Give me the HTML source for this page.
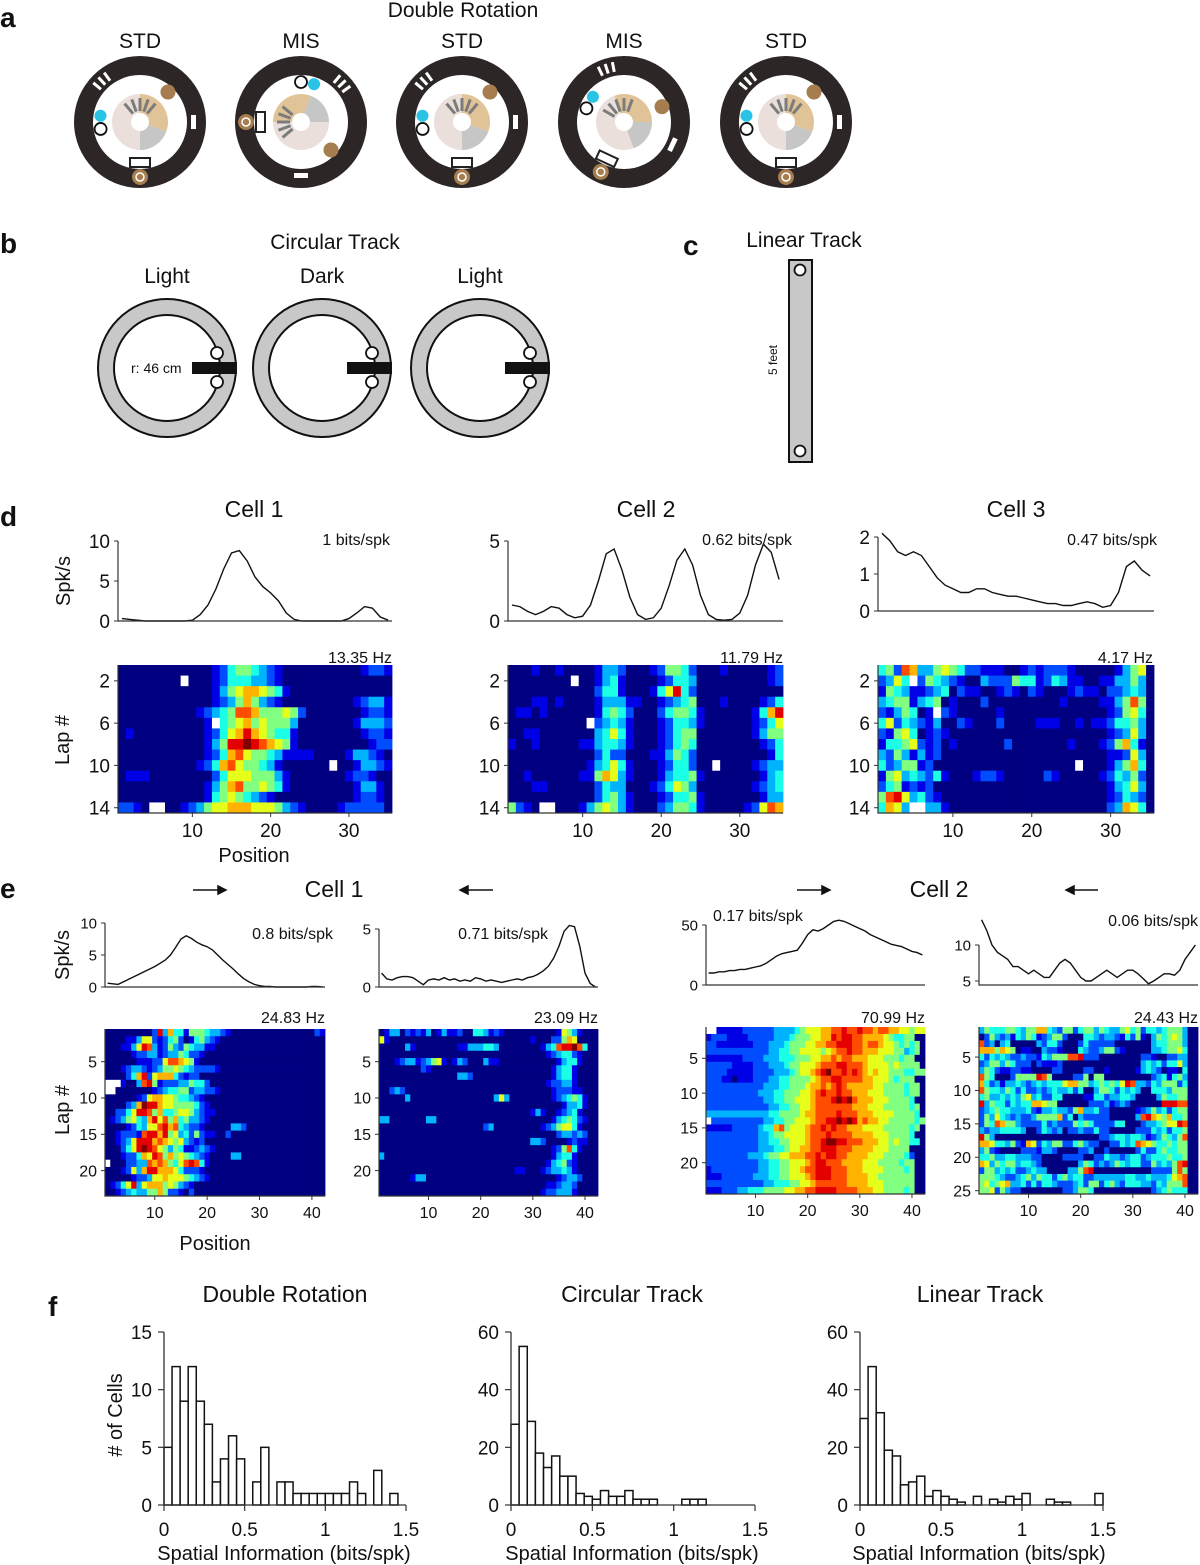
<!DOCTYPE html>
<html><head><meta charset="utf-8">
<style>
html,body{margin:0;padding:0;background:#fff;}
svg{display:block;font-family:"Liberation Sans",Arial,sans-serif;}
</style></head>
<body>
<svg id="fig" width="1200" height="1565" viewBox="0 0 1200 1565" xmlns="http://www.w3.org/2000/svg">
<rect width="1200" height="1565" fill="#fff"/>
<g font-size="21" fill="#111">
<text x="0" y="27" font-size="28" font-weight="bold">a</text>
<text x="463" y="17" text-anchor="middle">Double Rotation</text>
<text x="140" y="48" text-anchor="middle">STD</text>
<text x="301" y="48" text-anchor="middle">MIS</text>
<text x="462" y="48" text-anchor="middle">STD</text>
<text x="624" y="48" text-anchor="middle">MIS</text>
<text x="786" y="48" text-anchor="middle">STD</text>
<text x="0" y="253" font-size="28" font-weight="bold">b</text>
<text x="335" y="249" text-anchor="middle">Circular Track</text>
<text x="167" y="283" text-anchor="middle">Light</text>
<text x="322" y="283" text-anchor="middle">Dark</text>
<text x="480" y="283" text-anchor="middle">Light</text>
<text x="683" y="255" font-size="28" font-weight="bold">c</text>
<text x="804" y="247" text-anchor="middle">Linear Track</text>
<text x="0" y="526" font-size="28" font-weight="bold">d</text>
<text x="254" y="517" text-anchor="middle" font-size="23">Cell 1</text>
<text x="646" y="517" text-anchor="middle" font-size="23">Cell 2</text>
<text x="1016" y="517" text-anchor="middle" font-size="23">Cell 3</text>
<text x="0" y="898" font-size="28" font-weight="bold">e</text>
<text x="334" y="897" text-anchor="middle" font-size="23">Cell 1</text>
<text x="939" y="897" text-anchor="middle" font-size="23">Cell 2</text>
<text x="48" y="1316" font-size="28" font-weight="bold">f</text>
<text x="285" y="1302" text-anchor="middle" font-size="23">Double Rotation</text>
<text x="632" y="1302" text-anchor="middle" font-size="23">Circular Track</text>
<text x="980" y="1302" text-anchor="middle" font-size="23">Linear Track</text>
</g>
<g font-size="16" fill="#111">
<text x="390" y="545" text-anchor="end">1 bits/spk</text>
<text x="792" y="545" text-anchor="end">0.62 bits/spk</text>
<text x="1157" y="545" text-anchor="end">0.47 bits/spk</text>
<text x="392" y="663" text-anchor="end">13.35 Hz</text>
<text x="783" y="663" text-anchor="end">11.79 Hz</text>
<text x="1153" y="663" text-anchor="end">4.17 Hz</text>
<text x="333" y="939" text-anchor="end">0.8 bits/spk</text>
<text x="548" y="939" text-anchor="end">0.71 bits/spk</text>
<text x="713" y="921">0.17 bits/spk</text>
<text x="1198" y="926" text-anchor="end">0.06 bits/spk</text>
<text x="325" y="1023" text-anchor="end">24.83 Hz</text>
<text x="598" y="1023" text-anchor="end">23.09 Hz</text>
<text x="925" y="1023" text-anchor="end">70.99 Hz</text>
<text x="1198" y="1023" text-anchor="end">24.43 Hz</text>
</g>
<g font-size="20" fill="#111">
<text transform="translate(70,581) rotate(-90)" text-anchor="middle">Spk/s</text>
<text transform="translate(69,740) rotate(-90)" text-anchor="middle">Lap #</text>
<text x="254" y="862" text-anchor="middle">Position</text>
<text transform="translate(69,955) rotate(-90)" text-anchor="middle">Spk/s</text>
<text transform="translate(69,1110) rotate(-90)" text-anchor="middle">Lap #</text>
<text x="215" y="1250" text-anchor="middle">Position</text>
<text transform="translate(122,1415) rotate(-90)" text-anchor="middle"># of Cells</text>
<text x="284" y="1560" text-anchor="middle">Spatial Information (bits/spk)</text>
<text x="632" y="1560" text-anchor="middle">Spatial Information (bits/spk)</text>
<text x="979" y="1560" text-anchor="middle">Spatial Information (bits/spk)</text>
</g>
<g stroke="#111" stroke-width="1.5" fill="#111">
<g><line x1="193" y1="890" x2="220" y2="890"/><path d="M226 890 L218 886 L218 894Z"/></g>
<g><line x1="466" y1="890" x2="493" y2="890"/><path d="M460 890 L468 886 L468 894Z"/></g>
<g><line x1="797" y1="890" x2="824" y2="890"/><path d="M830 890 L822 886 L822 894Z"/></g>
<g><line x1="1072" y1="890" x2="1098" y2="890"/><path d="M1066 890 L1074 886 L1074 894Z"/></g>
</g>
<g>
<rect x="789" y="260" width="23" height="202" fill="#c8c8c8" stroke="#111" stroke-width="2"/>
<circle cx="800" cy="270" r="5.5" fill="#fff" stroke="#111" stroke-width="1.8"/>
<circle cx="800" cy="451" r="5.5" fill="#fff" stroke="#111" stroke-width="1.8"/>
<text transform="translate(777,360) rotate(-90)" text-anchor="middle" font-size="12" fill="#111">5 feet</text>
</g>
<g id="dyn"></g>
</svg>
<script>
const NS='http://www.w3.org/2000/svg';
const root=document.getElementById('dyn');
function mk(tag,attrs,name,parent){
  const el=document.createElementNS(NS,tag);
  for(const k in attrs) el.setAttribute(k,attrs[k]);
  
  
  (parent||root).appendChild(el);
  return el;
}
function txt(x,y,s,size,anchor,name,parent){
  const t=mk('text',{x:x,y:y,'font-size':size,'text-anchor':anchor,fill:'#111'},name,parent);
  t.textContent=s;return t;
}

const ringCenters=[140,301,462,624,786];
const ringLabels=['std','mis','std','mis','std'];
const outerRot=[0,90,0,25,0];
const localRot=[0,100,0,30,0];
const innerRot=[0,-90,0,-20,0];
function pol(cx,cy,r,a){const t=a*Math.PI/180;return [cx+r*Math.cos(t),cy+r*Math.sin(t)];}
function sector(cx,cy,r,a0,a1){const p0=pol(cx,cy,r,a0),p1=pol(cx,cy,r,a1);const lg=((a1-a0+360)%360)>180?1:0;return `M${cx} ${cy} L${p0[0]} ${p0[1]} A${r} ${r} 0 ${lg} 1 ${p1[0]} ${p1[1]}Z`;}
ringCenters.forEach((cx,i)=>{
  const cy=122;
  const g=mk('g',{},'arena-'+ringLabels[i]+'-'+(i+1));
  mk('circle',{cx:cx,cy:cy,r:66,fill:'#2d2626'},'arena-outer-ring',g);
  mk('circle',{cx:cx,cy:cy,r:47,fill:'#fff'},'arena-floor',g);
  const inner=mk('g',{transform:`rotate(${innerRot[i]} ${cx} ${cy})`},'arena-center-platform',g);
  mk('path',{d:sector(cx,cy,28,90,270),fill:'#ebdfdb'},'platform-light-half',inner);
  mk('path',{d:sector(cx,cy,28,-90,20),fill:'#e0c397'},'platform-tan-quadrant',inner);
  mk('path',{d:sector(cx,cy,28,20,90),fill:'#c6c6c6'},'platform-gray-quadrant',inner);
  for(let k=0;k<5;k++){const a=-130+k*20;const p0=pol(cx,cy,11,a),p1=pol(cx,cy,24,a);
    mk('line',{x1:p0[0],y1:p0[1],x2:p1[0],y2:p1[1],stroke:'#7c7c7c','stroke-width':3},'platform-ray',inner);}
  mk('circle',{cx:cx,cy:cy,r:9,fill:'#fff'},'platform-center',inner);
  const og=mk('g',{transform:`rotate(${outerRot[i]} ${cx} ${cy})`},'distal-cues',g);
  for(let k=-1;k<=1;k++){const a=-133+k*7;const p0=pol(cx,cy,51,a),p1=pol(cx,cy,61,a);
    mk('line',{x1:p0[0],y1:p0[1],x2:p1[0],y2:p1[1],stroke:'#fff','stroke-width':3},'triple-bar-cue',og);}
  mk('rect',{x:cx+51,y:cy-7,width:5,height:14,fill:'#fff'},'single-bar-cue',og);
  mk('rect',{x:cx-10,y:cy+36,width:20,height:9,fill:'none',stroke:'#222','stroke-width':2},'rect-cue',og);
  mk('circle',{cx:cx,cy:cy+55,r:8,fill:'#a57d4f'},'brown-ring-cue',og);
  mk('circle',{cx:cx,cy:cy+55,r:4,fill:'none',stroke:'#fff','stroke-width':1.5},'brown-ring-inner',og);
  const bp=pol(cx,cy,41,-47);
  mk('circle',{cx:bp[0],cy:bp[1],r:7.5,fill:'#a57d4f'},'brown-dot-cue',og);
  const lg=mk('g',{transform:`rotate(${localRot[i]} ${cx} ${cy})`},'local-cues',g);
  const wp=pol(cx,cy,40,170),cp=pol(cx,cy,40,189);
  mk('circle',{cx:wp[0],cy:wp[1],r:6,fill:'#fff',stroke:'#111','stroke-width':1.8},'white-circle-cue',lg);
  mk('circle',{cx:cp[0],cy:cp[1],r:6,fill:'#29c3e6'},'cyan-dot-cue',lg);
});

const trackCenters=[167,322,480];
trackCenters.forEach((cx,i)=>{
  const cy=368;
  const g=mk('g',{},'circular-track-'+(i+1));
  mk('circle',{cx:cx,cy:cy,r:69,fill:'#c8c8c8',stroke:'#111','stroke-width':2},'track-ring',g);
  mk('circle',{cx:cx,cy:cy,r:53,fill:'#fff',stroke:'#111','stroke-width':2},'track-inner',g);
  mk('rect',{x:cx+25,y:cy-6,width:45,height:12,fill:'#111'},'track-barrier',g);
  mk('circle',{cx:cx+50,cy:cy-15,r:6,fill:'#fff',stroke:'#111','stroke-width':1.8},'reward-well-top',g);
  mk('circle',{cx:cx+50,cy:cy+14,r:6,fill:'#fff',stroke:'#111','stroke-width':1.8},'reward-well-bottom',g);
  if(i===0) txt(cx-36,cy+5,'r: 46 cm',14,'start','radius-label',g);
});

const dCell1Rate=[0.3,0.2,0.1,0,0,0,0,0,0,0.1,0.8,2,4,6.5,8.5,8.8,7.5,5.5,4.3,3.5,2.5,1,0.2,0,0,0,0,0,0,0.3,1,1.8,1.6,0.5,0.1];
const dCell2Rate=[1.0,0.9,0.6,0.4,0.6,0.9,0.8,0.4,0.2,0.3,1.0,2.5,4.2,4.5,3.2,1.5,0.4,0.1,0.2,0.8,2.2,3.8,4.5,3.5,1.6,0.4,0.1,0.05,0.1,0.5,1.6,3.5,4.8,4.3,2.6];
const dCell3Rate=[2.1,1.9,1.6,1.5,1.6,1.5,1.2,0.9,0.7,0.6,0.5,0.5,0.6,0.6,0.5,0.45,0.4,0.4,0.35,0.3,0.25,0.2,0.2,0.15,0.15,0.2,0.25,0.2,0.1,0.15,0.5,1.2,1.35,1.1,0.95];
const eCell1RightRate=[0.6,0.5,0.4,0.8,1.2,1.6,2,2.4,2.8,3.2,3.7,4.2,5,6.2,7.5,8,7.6,7,6.6,6.3,5.8,5,4.2,3.5,2.8,2,1.3,0.8,0.4,0.2,0.1,0.1,0,0,0,0,0,0,0,0.1,0.1,0];
const eCell1LeftRate=[1.2,0.7,0.6,0.8,0.9,0.9,0.8,0.5,0.2,0.6,0.7,0.6,0.8,0.6,0.7,0.5,0.6,0.5,0.8,0.7,0.5,0.6,0.5,0.4,0.5,0.6,0.7,0.6,0.8,0.9,1.1,1.4,1.8,2.5,3.5,4.8,5.3,5.2,3.5,1.2,0.3,0];
const eCell2RightRate=[10,10,11,11,12,12,13,13,14,15,16,18,21,24,26,27,28,29,35,42,46,45,47,50,53,54,53,51,49,47,45,42,40,38,36,34,33,32,30,28,27,25];
const eCell2LeftRate=[13.5,12,10,9,8.5,8,7,7,6.5,6,6.5,6,5.5,5.5,6.5,7.5,8,7.5,6.5,5.5,5,5,5.5,6,6.5,6,5.5,6,6.5,6.5,6,5.3,4.6,5,5.5,6,6,5.8,6.5,8,9,10];

const dCell1Heat=["0000000000001245543210000000000122100","00000000w00012444332100000000000000","00000000000013567765410000000000000","00000000000012357532100000000012331","0000000000123458875556520000000122100","000000000001w456756555300000001333200","01000000000124679765441000000001221","0000000000013599a98765100000000012210","00000000000124786554311110000133210","000000000012478655431000000w00133210","01110000000024666555310000000122100","00000000000135785565410000000013310","0000000000014565432100000000001221","2210ww0012356677766653210000122222"];
const dCell2Heat=["0001001000013320001255420001000001220","00000000w00134100001244300000000012","0000000000024410001469420000000000","0001101000013331100123450001000012430","01101000000145420002455410000001479","0000000000w23431000124431000000124663","00110000000346410001245500000001355","1001000001134431000124540000000012443","0000000000024220001135420000000001452","00000000001346410001244200w000012332","0010000001157631000134451000000013442","0001100000024330001246530000000123432","00000000000245310001244510000000133","5210ww0001356531000235541000001268766"];
const dCell3Heat=["4528733565422111001212221000001356","2364w25432100322254412431100113353","1543112340211001210210001211022343","3455134501000200000000010000113585","2135401w21000001000000000000012564","4624321300210002000011100101124453","2156401210000000000000000000012363","1445621201000000200000001000125741","3253131200000000000000000000011263","4235512000000000000000000w00013574","1563432410001221000002100000124352","2451212000000000000000000000013463","5896342100000000000000000000012432","4763ww3310000000000000000000023764"];
const eCell1RightHeat=["0000000002937441555433210000000000000000210","0000113662124520145321000000000000000000000","0001136983125325433110000000000000000000000","0000012233123354221000000000000000000000000","0000001112268876510000000000000000000000000","0001233212355654322221000000000000000000000","0000247926777421220000000000000000000000000","www100389512223354420000000000000000000000","ww000000012344552332210000000000000000000000","0000001267766544321000000000000000000000000","0000237a99766555542100000000000000000000000","0022469985744566532110000000000000000000000","0123564379685745332100000000000000000000000","0000124366897843221000003320000000000000000","0012221899795634252110020000000000000000000","0012369997876563212000000000000000000000000","0002469a986535411232100000000000000000000000","0001224769857565432100003300000000000000000","w00022338787546898410000000000000000000000","0001263799777642221000000000000000000000000","0000012236676665432100000000000000000000000","0124693677756532100000000000000000000000000","0012343355752210200000000000000000000000000"];
const eCell1LeftHeat=["0133021213013112004431210000000000165310","6100000000000000000000000000010002257600","0000031000000001133344300000000134899a84","0000000000000000000000000000000012344210","0001233123561013200031100000000000134410","0000000021000000000000000000000001344100","0000000000000003320000000000000001344100","0000000000000000000000000000000012233100","0023200000000000000000000000000001222110","00000300000000000000003630000000012345410","0000000000000000000000000000000000013341","0000000000000000000000000000013100123410","3300000003300000000000000000000001345421","0000000000000000000023000000000123566410","0000000000000000000000000000000000233232","0000000000000000000000000000033200001211","0000000000000000000000000000000001258410","3000000000000000000000000000000001344100","0000000000000000000000000000000013452100","0000000000000000000000000011000123343100","0000001330000000000000000000000000123320","0000000000000000000000000000000011233200","0000000000000000000000000000000122333100"];
const eCell2RightHeat=["ww1111122222233334566677889889887887766566","1222111122222333455566779899887777654455","22111111122233345556677889998878876654545","22222222222233445566665678898877766655345","1111111222233344455566778788777666555455","22222111122233345566678889988876666565555","22221111122223334566789a889898767665554455","2221101112223344555567889988887766654555","22222222222333445556778789877777665555455","22222222223334455566789889887776665555455","2222222222233445566678889a9a877766655554","22222222222233445566788888887776665555545","33333333333344555567788889888777666655554","w222222222233445566678899a9a97877665555545","11111222223447856667889898877766665555545","2222222222334556666788898888777766655554","22222222223344556667889aa9988877766565544","222222222233344566778899988877776665555","2222222233345566777889899887777666555542","2222222222334455666789988877776665555455","1222222222334455667889998887776666555545","1112222223334455666789998887777665555555","2222222222233444556678888887777666555555","1112223344455556677889999888877766555545"];
const eCell2LeftHeat=["3544455435577432552455354335645244345553","0253231435412355200044323321425103545653","8230340000032442000242222200000003445553","7775765011003221000432235521000003345564","4243432232214355588922200000000221002233","2355354222021112000000000000000343424463","3542112211000022000022001000001343201104","8540002555598500002250550000000002341453","7423133432343444677553454546983324355524","8544354242232343342400355424343004443555","4533434356342244000011442334430000354455","9354424344776550000002223123200000099988","2345443334213343325733422000001235342455","2536432322355557240322222000003897657445","2548755322224232225454222244000233456698","3233444430024323022322422000002224342445","9530000000000000000000022344344312354358","7764435217624355224532200224348765445455","3521000022213320000223002000002422454455","4453344333220000222200224332344234445445","7635455344320000000354232354344225343589","2553434223433000033589000000000002222585","5554322345354424534422333333443343334678","5645673342424432223425524532444332435558","5562532200000000223554000000000002345444"];

const dPosTicks=[10,20,30];
const dLapTicks=[2,6,10,14];
const ePosTicks=[10,20,30,40];
const eLapTicks=[5,10,15,20];
const eLapTicks25=[5,10,15,20,25];
const dCell1RateTicks=[0,5,10];
const dCell2RateTicks=[0,5];
const dCell3RateTicks=[0,1,2];
const eCell1RightRateTicks=[0,5,10];
const eCell1LeftRateTicks=[0,5];
const eCell2RightRateTicks=[0,50];
const eCell2LeftRateTicks=[5,10];

function clamp(v){return Math.max(0,Math.min(1,v));}
function jet(t){const r=clamp(1.5-Math.abs(4*t-3)),g=clamp(1.5-Math.abs(4*t-2)),b=clamp(1.5-Math.abs(4*t-1));
  return `rgb(${Math.round(r*255)},${Math.round(g*255)},${Math.round(b*255)})`;}

function heatmap(name,rows,ncols,x0,y0,x1,y1,lapTicks,posTicks,fs,posLabelDy){
  const g=mk('g',{},name);
  const nrows=rows.length, cw=(x1-x0)/ncols, rh=(y1-y0)/nrows;
  const xs=p=>x0+(p-0.5)*cw, ys=r=>y0+(r-0.5)*rh;
  for(let r=0;r<nrows;r++){
    for(let c=0;c<ncols;c++){
      const ch=rows[r][c]||'0';
      const fill= ch==='w' ? '#fff' : jet((ch==='a'?10:+ch)/10);
      mk('rect',{x:(x0+c*cw).toFixed(2),y:(y0+r*rh).toFixed(2),width:(cw+0.4).toFixed(2),height:(rh+0.4).toFixed(2),fill:fill},'heatmap-cell',g);
    }
  }
  mk('path',{d:`M${x0} ${y0} L${x0} ${y1} L${x1} ${y1}`,fill:'none',stroke:'#333','stroke-width':1.2},'heatmap-axes',g);
  lapTicks.forEach(l=>{const y=ys(l);
    mk('line',{x1:x0-4,y1:y,x2:x0,y2:y,stroke:'#333','stroke-width':1},'lap-tick',g);
    txt(x0-8,y+fs*0.36,String(l),fs,'end','lap-tick-label',g);});
  posTicks.forEach(p=>{const x=xs(p);
    mk('line',{x1:x,y1:y1,x2:x,y2:y1+4,stroke:'#333','stroke-width':1},'position-tick',g);
    txt(x,y1+posLabelDy,String(p),fs,'middle','position-tick-label',g);});
}
function rateLine(name,vals,x0,x1,yBottom,yTop,vmin,vmax,ticks,fs){
  const g=mk('g',{},name);
  const n=vals.length, cw=(x1-x0)/n;
  const xs=i=>x0+(i+0.5)*cw, ys=v=>yBottom-(v-vmin)/(vmax-vmin)*(yBottom-yTop);
  const pts=vals.map((v,i)=>`${xs(i).toFixed(1)},${ys(v).toFixed(1)}`).join(' ');
  mk('polyline',{points:pts,fill:'none',stroke:'#111','stroke-width':1.4},'rate-line',g);
  const topT=ticks[ticks.length-1];
  mk('path',{d:`M${x0} ${ys(topT)} L${x0} ${yBottom} L${x1} ${yBottom}`,fill:'none',stroke:'#333','stroke-width':1.2},'rate-axes',g);
  ticks.forEach(t=>{const y=ys(t);
    mk('line',{x1:x0-4,y1:y,x2:x0,y2:y,stroke:'#333','stroke-width':1},'rate-tick',g);
    txt(x0-8,y+fs*0.36,String(t),fs,'end','rate-tick-label',g);});
}

rateLine('d-cell1-rate',dCell1Rate,118,392,621,541,0,10,dCell1RateTicks,19);
rateLine('d-cell2-rate',dCell2Rate,508,783,621,541,0,5,dCell2RateTicks,19);
rateLine('d-cell3-rate',dCell3Rate,878,1154,611,537,0,2,dCell3RateTicks,19);
heatmap('d-cell1-heatmap',dCell1Heat,35,118,665,392,813,dLapTicks,dPosTicks,19,24);
heatmap('d-cell2-heatmap',dCell2Heat,35,508,665,783,813,dLapTicks,dPosTicks,19,24);
heatmap('d-cell3-heatmap',dCell3Heat,35,878,665,1154,813,dLapTicks,dPosTicks,19,24);
rateLine('e-cell1-right-rate',eCell1RightRate,105,325,987,923,0,10,eCell1RightRateTicks,15);
rateLine('e-cell1-left-rate',eCell1LeftRate,379,598,987,929,0,5,eCell1LeftRateTicks,15);
rateLine('e-cell2-right-rate',eCell2RightRate,706,925,985,925,0,50,eCell2RightRateTicks,15);
rateLine('e-cell2-left-rate',eCell2LeftRate,979,1198,985,945,4.44,10,eCell2LeftRateTicks,15);
heatmap('e-cell1-right-heatmap',eCell1RightHeat,42,105,1029,325,1196,eLapTicks,ePosTicks,16,22);
heatmap('e-cell1-left-heatmap',eCell1LeftHeat,42,379,1029,598,1196,eLapTicks,ePosTicks,16,22);
heatmap('e-cell2-right-heatmap',eCell2RightHeat,42,706,1027,925,1194,eLapTicks,ePosTicks,16,22);
heatmap('e-cell2-left-heatmap',eCell2LeftHeat,42,979,1027,1198,1194,eLapTicks25,ePosTicks,16,22);

const drCounts=[5,12,9,12,9,7,2,4,6,4,0,2,5,0,2,2,1,1,1,1,1,1,1,2,1,0,3,0,1,0];
const ctCounts=[28,55,29,18,13,17,10,10,4,3,2,5,3,3,5,2,2,2,0,0,0,2,2,2,0,0,0,0,0,0];
const ltCounts=[30,48,32,19,17,7,8,10,3,5,3,2,1,0,3,0,2,1,3,2,4,0,0,2,1,1,0,0,0,4];
const binWidth=0.05;
const fXTicks=[0,0.5,1,1.5];
const fXTickLabels=['0','0.5','1','1.5'];
const drYTicks=[0,5,10,15];
const countYTicks=[0,20,40,60];
function hist(name,counts,x0,x1,ymax,yTicks){
  const g=mk('g',{},name);
  const yB=1505,yT=1332;
  const xs=v=>x0+v/1.5*(x1-x0), ys=v=>yB-v/ymax*(yB-yT);
  counts.forEach((c,i)=>{ if(c<=0) return;
    mk('rect',{x:xs(i*binWidth),y:ys(c),width:xs(binWidth)-x0,height:yB-ys(c),fill:'#fff',stroke:'#111','stroke-width':1.5},'histogram-bar',g);});
  mk('line',{x1:x0,y1:yT,x2:x0,y2:yB,stroke:'#333','stroke-width':1.3},'y-axis',g);
  mk('line',{x1:x0,y1:yB,x2:x1,y2:yB,stroke:'#333','stroke-width':1.3},'x-axis',g);
  yTicks.forEach(t=>{const y=ys(t);
    mk('line',{x1:x0-6,y1:y,x2:x0,y2:y,stroke:'#333','stroke-width':1.2},'y-tick',g);
    txt(x0-12,y+7,String(t),19,'end','y-tick-label',g);});
  fXTicks.forEach((t,i)=>{const x=xs(t);
    mk('line',{x1:x,y1:yB,x2:x,y2:yB+6,stroke:'#333','stroke-width':1.2},'x-tick',g);
    txt(x,1536,fXTickLabels[i],19,'middle','x-tick-label',g);});
}
hist('f-double-rotation-histogram',drCounts,164,406,15,drYTicks);
hist('f-circular-track-histogram',ctCounts,511,755,60,countYTicks);
hist('f-linear-track-histogram',ltCounts,860,1103,60,countYTicks);
</script>
</body></html>
